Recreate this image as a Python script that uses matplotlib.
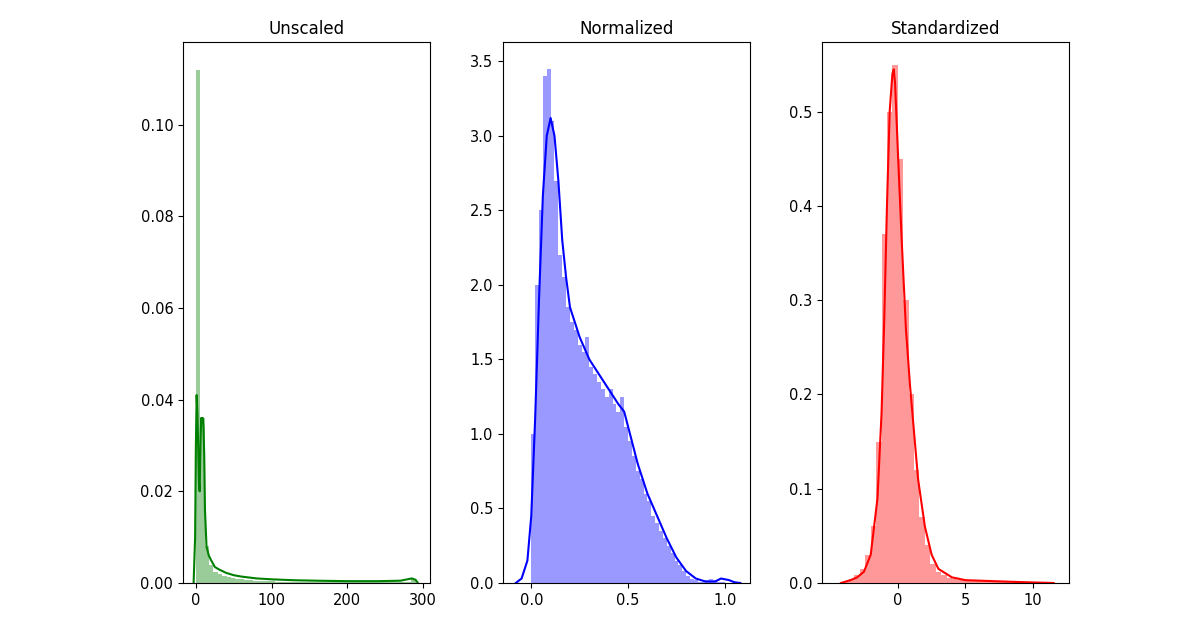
import numpy as np
import matplotlib
matplotlib.use("Agg")
import matplotlib.pyplot as plt

titles = ["Unscaled", "Normalized", "Standardized"]
colors = ["green", "blue", "red"]

# Unscaled
u_edges_start, u_edges_stop, u_nbins = 0.0, 290.0, 50
u_heights = [0.112, 0.036, 0.008, 0.004, 0.0025, 0.002, 0.0015, 0.0012, 0.001, 0.0009,
             0.0008, 0.0007, 0.0006, 0.0005, 0.0005, 0.0004, 0.0004, 0.0004, 0.0003, 0.0003,
             0.0003, 0.0003, 0.0003, 0.0003, 0.0003, 0.0002, 0.0002, 0.0002, 0.0002, 0.0002,
             0.0002, 0.0002, 0.0002, 0.0002, 0.0002, 0.0002, 0.0002, 0.0002, 0.0002, 0.0002,
             0.0002, 0.0002, 0.0002, 0.0002, 0.0002, 0.0002, 0.0002, 0.0002, 0.0003, 0.0008]
u_kde_x = [-3, -1, 0, 1, 2, 3, 4, 5, 6, 7, 8, 9, 10, 11, 12, 14, 17, 20, 25, 30, 40, 50, 60, 80, 100, 130, 160, 200, 240, 270, 285, 290, 293]
u_kde_y = [0.0, 0.010, 0.030, 0.041, 0.037, 0.030, 0.022, 0.020, 0.030, 0.036, 0.035, 0.036, 0.034, 0.028, 0.016, 0.008, 0.006, 0.005, 0.0035, 0.003, 0.0022, 0.0017, 0.0014, 0.001, 0.0008, 0.0006, 0.0005, 0.0004, 0.0004, 0.0005, 0.0010, 0.0007, 0.0]

# Normalized
n_edges_start, n_edges_stop, n_nbins = 0.0, 1.0, 50
n_heights = [1.0, 2.0, 2.5, 3.4, 3.45, 3.1, 2.7, 2.2, 2.05, 1.85,
             1.75, 1.7, 1.6, 1.55, 1.65, 1.45, 1.4, 1.35, 1.3, 1.25,
             1.3, 1.2, 1.15, 1.25, 1.05, 0.95, 0.85, 0.75, 0.7, 0.6,
             0.55, 0.45, 0.4, 0.35, 0.3, 0.25, 0.2, 0.15, 0.12, 0.08,
             0.05, 0.03, 0.02, 0.01, 0.01, 0.02, 0.03, 0.02, 0.01, 0.01]
n_kde_x = [-0.08, -0.05, -0.02, 0.0, 0.02, 0.04, 0.06, 0.08, 0.10, 0.12, 0.14, 0.16, 0.18, 0.20, 0.25, 0.30, 0.35, 0.40, 0.45, 0.48, 0.50, 0.55, 0.60, 0.65, 0.70, 0.75, 0.80, 0.85, 0.90, 0.95, 0.98, 1.02, 1.05, 1.08]
n_kde_y = [0.0, 0.03, 0.15, 0.45, 1.1, 1.9, 2.6, 3.0, 3.12, 3.0, 2.7, 2.3, 2.05, 1.85, 1.65, 1.5, 1.4, 1.3, 1.2, 1.15, 1.05, 0.8, 0.6, 0.45, 0.3, 0.17, 0.08, 0.03, 0.01, 0.01, 0.03, 0.02, 0.005, 0.0]

# Standardized
s_edges_start, s_edges_stop, s_nbins = -4.0, 11.6, 39
s_heights = [0.002, 0.004, 0.008, 0.015, 0.03, 0.06, 0.15, 0.37, 0.50, 0.55,
             0.45, 0.30, 0.20, 0.12, 0.07, 0.04, 0.02, 0.012, 0.008, 0.005,
             0.004, 0.003, 0.003, 0.002, 0.002, 0.002, 0.002, 0.001, 0.001, 0.001,
             0.001, 0.001, 0.001, 0.001, 0.001, 0.001, 0.001, 0.001, 0.001]
s_kde_x = [-4.2, -3.5, -3.0, -2.5, -2.0, -1.5, -1.2, -1.0, -0.8, -0.6, -0.4, -0.3, -0.2, 0.0, 0.3, 0.6, 0.9, 1.2, 1.5, 2.0, 2.5, 3.0, 4.0, 5.0, 7.0, 9.0, 11.5]
s_kde_y = [0.0, 0.003, 0.006, 0.012, 0.03, 0.09, 0.18, 0.28, 0.40, 0.50, 0.54, 0.545, 0.53, 0.46, 0.36, 0.27, 0.21, 0.16, 0.11, 0.06, 0.03, 0.015, 0.006, 0.003, 0.002, 0.001, 0.0]

panels = [
    (u_edges_start, u_edges_stop, u_nbins, u_heights, u_kde_x, u_kde_y, (-17, 309), (0, 0.118), [0, 100, 200, 300], [0.0, 0.02, 0.04, 0.06, 0.08, 0.10]),
    (n_edges_start, n_edges_stop, n_nbins, n_heights, n_kde_x, n_kde_y, (-0.146, 1.13), (0, 3.63), [0.0, 0.5, 1.0], [0.0, 0.5, 1.0, 1.5, 2.0, 2.5, 3.0, 3.5]),
    (s_edges_start, s_edges_stop, s_nbins, s_heights, s_kde_x, s_kde_y, (-5.6, 12.65), (0, 0.574), [0, 5, 10], [0.0, 0.1, 0.2, 0.3, 0.4, 0.5]),
]

fig = plt.figure(figsize=(12, 6.28), dpi=100)
lefts = [183, 503, 822]
for i, (a, b, nb, h, kx, ky, xl, yl, xt, yt) in enumerate(panels):
    ax = fig.add_axes([lefts[i] / 1200, 45 / 628, 247 / 1200, 541 / 628])
    edges = np.linspace(a, b, nb + 1)
    ax.bar(edges[:-1], h, width=np.diff(edges), align="edge", color=colors[i], alpha=0.4, linewidth=0)
    ax.plot(kx, ky, color=colors[i], lw=1.5)
    ax.set_xlim(*xl)
    ax.set_ylim(*yl)
    ax.set_xticks(xt)
    ax.set_yticks(yt)
    ax.set_yticklabels([f"{v:.2f}" if i == 0 else f"{v:.1f}" for v in yt])
    ax.set_title(titles[i], fontsize=12)
    ax.tick_params(labelsize=10.5)

fig.savefig("out.png", dpi=100)
